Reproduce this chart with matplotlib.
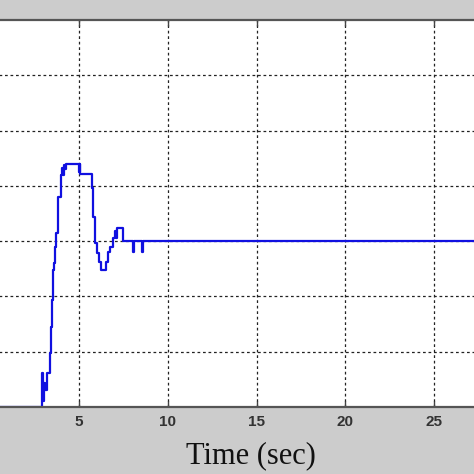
import matplotlib
matplotlib.use("Agg")
import matplotlib.pyplot as plt
import numpy as np

# step response (time in sec, response in grid units)
time = [0.0, 2.92, 2.97, 3.02, 3.10, 3.20, 3.37, 3.42, 3.48, 3.54, 3.59, 3.65,
        3.70, 3.82, 3.99, 4.05, 4.10, 4.15, 4.21, 4.27, 5.00, 5.03, 5.06, 5.73,
        5.79, 5.90, 6.01, 6.13, 6.24, 6.52, 6.63, 6.75, 6.92, 7.03, 7.08, 7.13,
        7.48, 8.04, 8.10, 8.55, 8.60, 30.0]
response = [0.0, 0.61, 0.10, 0.43, 0.30, 0.61, 0.97, 1.44, 1.93, 2.47, 2.60, 2.89,
            3.14, 3.79, 4.19, 4.32, 4.19, 4.37, 4.30, 4.40, 4.25, 4.40, 4.22, 3.97,
            3.43, 2.96, 2.78, 2.62, 2.47, 2.62, 2.80, 2.89, 3.05, 3.19, 3.05, 3.23,
            3.01, 2.80, 3.01, 2.80, 3.01, 3.01]

x_ticks = [5, 10, 15, 20, 25]
y_ticks = [1, 2, 3, 4, 5, 6]

W, H = 474, 474
fig = plt.figure(figsize=(W / 100, H / 100), dpi=100)
fig.patch.set_facecolor("#cccccc")

# axes spills past the left/right edges like the cropped original
left_px, right_px, top_px, bottom_px = -9.75, 522.75, 20, 407
ax = fig.add_axes([left_px / W, 1 - bottom_px / H,
                   (right_px - left_px) / W, (bottom_px - top_px) / H])
ax.set_facecolor("white")

ax.plot(time, response, drawstyle="steps-post", color="#1010e0", lw=1.6)

ax.set_xlim(0, 30)
ax.set_ylim(0, 7)
ax.set_xticks(x_ticks)
ax.set_yticks(y_ticks)
ax.set_xticklabels([str(t) for t in x_ticks])
ax.set_yticklabels([])

ax.grid(True, color="#222222", lw=0.9, linestyle=(0, (2.2, 2.2)))
ax.tick_params(axis="both", direction="in", top=True, right=True, length=4,
               width=1, color="#444444")
ax.tick_params(axis="x", pad=6, labelsize=11, labelcolor="#333333")
for lab in ax.get_xticklabels():
    lab.set_fontfamily("Liberation Sans")
    lab.set_fontweight("bold")

for side in ["top", "bottom", "left", "right"]:
    ax.spines[side].set_color("#555555")
    ax.spines[side].set_linewidth(1.6)

fig.text(251 / W, 1 - 463 / H, "Time (sec)", ha="center", va="baseline",
         fontsize=22, family="Liberation Serif", color="#111111")

fig.savefig("out.png", dpi=100, facecolor=fig.get_facecolor())
